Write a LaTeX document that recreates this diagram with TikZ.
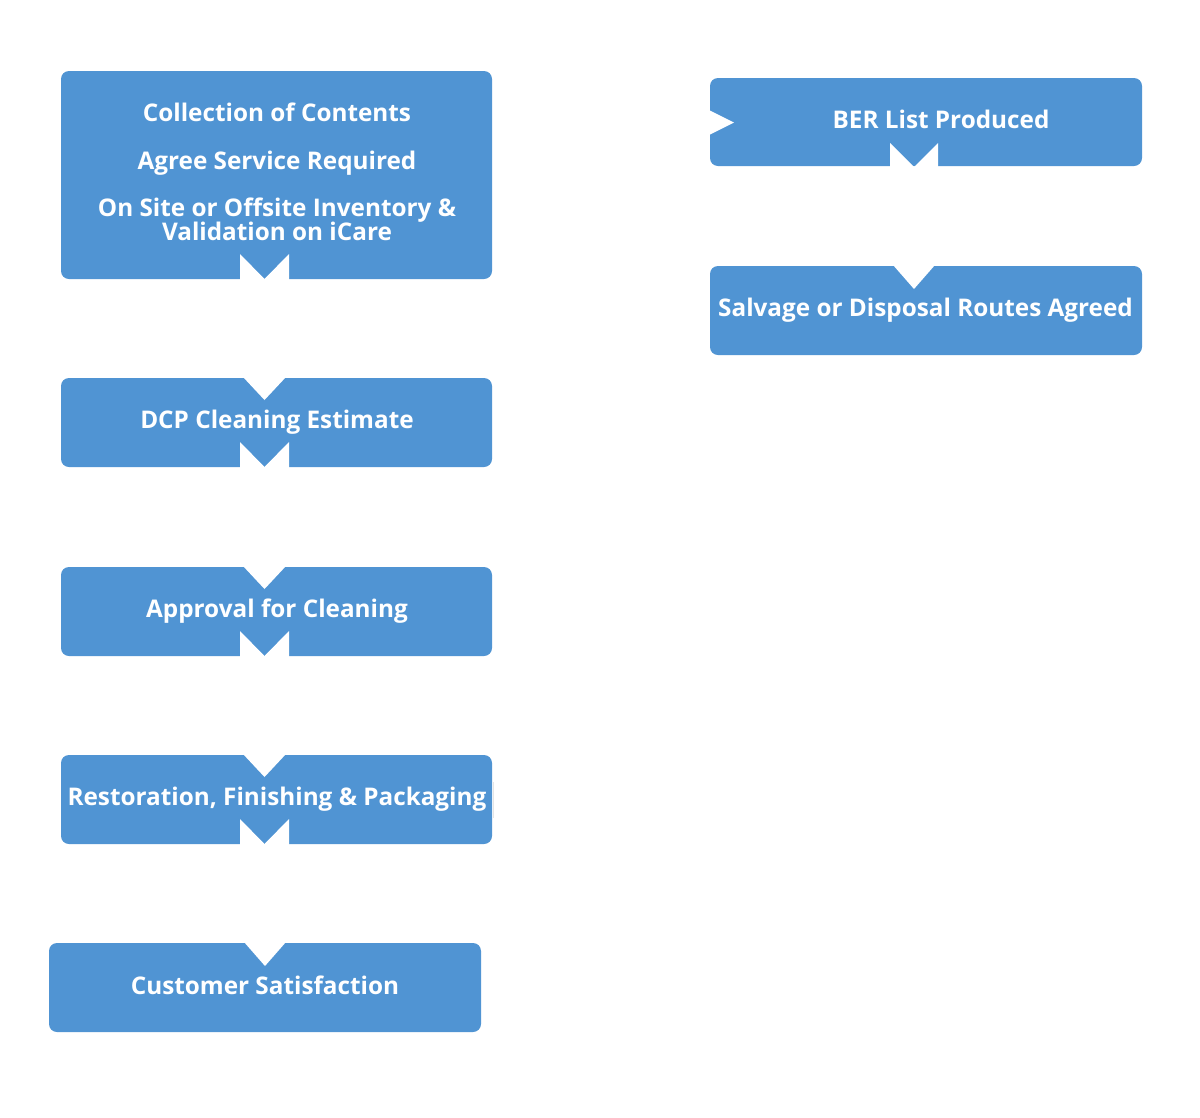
\documentclass[tikz,border=0pt]{standalone}
\usepackage{fontspec}
\setmainfont{Open Sans}
\definecolor{boxblue}{RGB}{80,148,211}
\begin{document}
\begin{tikzpicture}[x=1pt,y=-1pt,
  box/.style={fill=boxblue, rounded corners=8pt, inner sep=0pt, minimum width=431pt},
  notch/.style={fill=white, draw=none},
  txt/.style={text=white, font=\fontsize{24.3}{24}\selectfont\bfseries, inner sep=0pt, anchor=base}]
\useasboundingbox (0,0) rectangle (1200,1117);
\fill[white] (0,0) rectangle (1200,1117);
% boxes
\node[box, minimum height=208pt] (b1) at (276.5,175) {};
\node[box, minimum height=89pt] (b2) at (276.5,422.5) {};
\node[box, minimum height=89pt] (b3) at (276.5,611.5) {};
\node[box, minimum height=89pt] (b4) at (276.5,799.5) {};
\node[box, minimum height=89pt, minimum width=432pt] (b5) at (265,987.5) {};
\node[box, minimum height=88pt, minimum width=432pt] (r1) at (926,122) {};
\node[box, minimum height=89pt, minimum width=432pt] (r2) at (926,310.5) {};
% bottom notches (left column)
\foreach \yb in {279,467,656,844}{
  \fill[notch] (240,\yb-25) -- (264.5,\yb) -- (289,\yb-25) -- (289,\yb+1) -- (240,\yb+1) -- cycle;
}
% top notches (left column)
\foreach \yt in {378,567,755}{
  \fill[notch] (243,\yt-1) -- (286,\yt-1) -- (264.5,\yt+22) -- cycle;
}
\fill[notch] (244,942) -- (286,942) -- (265,966) -- cycle;
% right column notches
\fill[notch] (709,110) -- (734,122.5) -- (709,135) -- cycle;
\fill[notch] (890,143) -- (914,167) -- (938,143) -- (938,167) -- (890,167) -- cycle;
\fill[notch] (893,265) -- (935,265) -- (914,289) -- cycle;
% thin mark beside restoration box
\draw[gray!20, line width=1.5pt] (493.5,782) -- (493.5,818);
% texts
\node[txt] (t1a) at (277,121.5) {Collection of Contents};
\node[txt] (t1b) at (277,169.5) {Agree Service Required};
\node[txt] (t1c) at (277,216.5) {On Site or Offsite Inventory \&};
\node[txt] (t1d) at (277,240.5) {Validation on iCare};
\node[txt] (t2) at (277,428.5) {DCP Cleaning Estimate};
\node[txt] (t3) at (277,617.5) {Approval for Cleaning};
\node[txt] (t4) at (277,805.5) {Restoration, Finishing \& Packaging};
\node[txt] (t5) at (265,994.5) {Customer Satisfaction};
\node[txt] (tr1) at (941,128.5) {BER List Produced};
\node[txt] (tr2) at (925.5,316.5) {Salvage or Disposal Routes Agreed};
\end{tikzpicture}
\end{document}
